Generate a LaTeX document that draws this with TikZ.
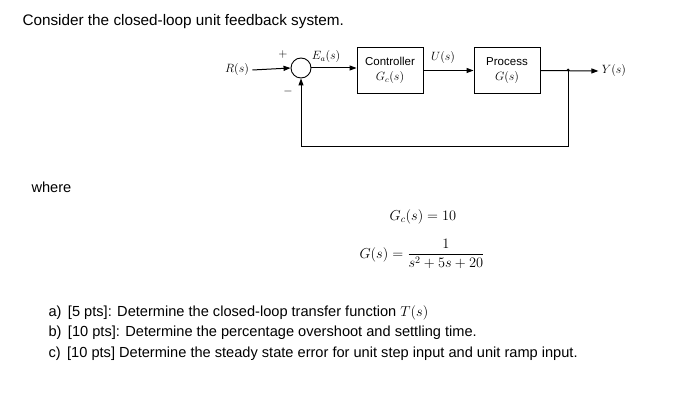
\documentclass[tikz,border=0pt]{standalone}
\usepackage{amsmath}
\usepackage{fontspec}
\setmainfont{Liberation Sans}
\usetikzlibrary{arrows.meta}
\begin{document}
\begin{tikzpicture}[x=1pt,y=-1pt,
  blk/.style={draw,line width=0.9pt,minimum width=66pt,minimum height=46pt,align=center,font=\fontsize{11.5}{15}\selectfont},
  sig/.style={line width=1pt,-{Triangle[length=7pt,width=5pt]}},
  lab/.style={font=\fontsize{12}{14}\selectfont},
  txt/.style={anchor=west,font=\fontsize{14.6}{17}\selectfont}]
\useasboundingbox[fill=white] (0,0) rectangle (700,406);
\node[txt,font=\fontsize{15.3}{18}\selectfont] (t) at (19,22) {Consider the closed-loop unit feedback system.};
\node[lab] (r) at (237,70) {$R(s)$};
\node[draw,circle,line width=0.9pt,minimum size=20pt,inner sep=0pt] (sum) at (301,68) {};
\node[blk] (c) at (390,70.5) {Controller\\$G_c(s)$};
\node[blk] (p) at (507,70.5) {Process\\$G(s)$};
\coordinate (br) at (568,70);
\node[lab] (y) at (614,71) {$Y(s)$};
\coordinate (fb) at (568,147);
\coordinate (fl) at (301,147);
\draw[sig] (r.east) -- (sum.west);
\draw[sig] (sum.east) -- (c.west |- sum.east);
\draw[sig] (c.east) -- (p.west);
\draw[sig] (p.east) -- (y.west);
\draw[sig] (br) -- (fb) -- (fl) -- (sum.south);
\fill (br) circle (1.5pt);
\node[lab] (plus) at (283,55) {$+$};
\node[lab] (minus) at (288,92) {$-$};
\node[lab] (ea) at (326,57) {$E_a(s)$};
\node[lab] (u) at (443,58) {$U(s)$};
\node[txt] (w) at (28,187) {where};
\node[font=\fontsize{14}{16}\selectfont] (gc) at (423,217) {$G_c(s)=10$};
\node[font=\fontsize{14}{16}\selectfont] (g) at (422,254) {$G(s)=\dfrac{1}{s^2+5s+20}$};
\node[txt] (qa) at (45,313) {a)\, [5 pts]: Determine the closed-loop transfer function $T(s)$};
\node[txt] (qb) at (45,333) {b)\, [10 pts]: Determine the percentage overshoot and settling time.};
\node[txt] (qc) at (45,354) {c)\, [10 pts] Determine the steady state error for unit step input and unit ramp input.};
\end{tikzpicture}
\end{document}
